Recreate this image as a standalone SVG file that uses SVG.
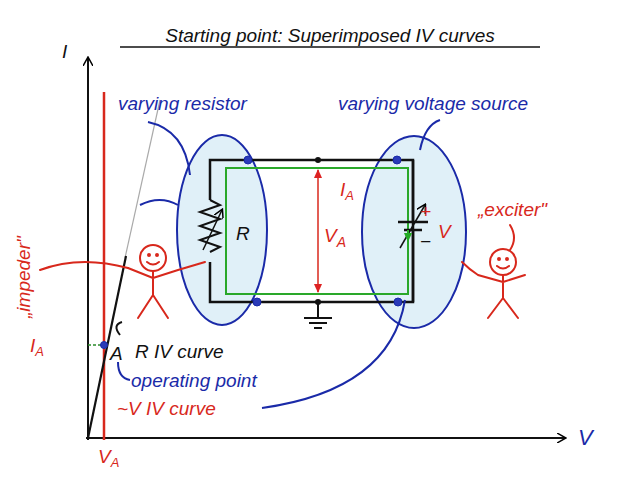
<svg xmlns="http://www.w3.org/2000/svg" width="631" height="480" viewBox="0 0 631 480">
<defs>
<marker id="ah" markerWidth="10" markerHeight="10" refX="8" refY="5" orient="auto" markerUnits="userSpaceOnUse"><path d="M0,0 L9,5 L0,10" fill="none" stroke="#000" stroke-width="1.5"/></marker>
<marker id="rh" markerWidth="10" markerHeight="10" refX="8" refY="5" orient="auto-start-reverse" markerUnits="userSpaceOnUse"><path d="M0,1 L9,5 L0,9 Z" fill="#d22"/></marker>
<marker id="gh" markerWidth="10" markerHeight="10" refX="5" refY="5" orient="auto" markerUnits="userSpaceOnUse"><path d="M0,1 L9,5 L0,9 Z" fill="#2a2"/></marker>
</defs>
<style>
text{font-family:"Liberation Sans",Arial,sans-serif;font-style:italic}
.b{fill:#1a2aa8;font-size:19px}
.r{fill:#d8281c;font-size:19px}
.k{fill:#111;font-size:19px}
.fig{fill:none;stroke:#d8281c;stroke-width:2;stroke-linecap:round}
.bl{fill:none;stroke:#1a2aa8;stroke-width:2}
.dot{fill:#2a3ab8;stroke:#1a2aa8}
</style>
<rect width="631" height="480" fill="#fff"/>
<g id="title"><text x="330" y="42" text-anchor="middle" class="k" font-size="18">Starting point: Superimposed IV curves</text>
<line x1="120" y1="47" x2="540" y2="47" stroke="#111" stroke-width="1.5"/></g>
<g id="axes" stroke="#111" stroke-width="2" fill="none">
<line x1="88" y1="440" x2="88" y2="58" marker-end="url(#ah)"/>
<line x1="86" y1="438" x2="565" y2="438" marker-end="url(#ah)"/>
</g>
<text x="62" y="58" class="k" font-size="22">I</text>
<text x="578" y="445" font-size="22" style="fill:#1a2aa8">V</text>
<line x1="104" y1="92" x2="104" y2="440" stroke="#d8281c" stroke-width="2.5"/>
<text x="98" y="463" class="r">V<tspan font-size="13" dy="4">A</tspan></text>
<line x1="125" y1="258" x2="160" y2="100" stroke="#aaa" stroke-width="1.2"/>
<line x1="88" y1="438" x2="126" y2="256" stroke="#111" stroke-width="2.2"/>
<line x1="88" y1="345" x2="104" y2="345" stroke="#2a8a2a" stroke-width="1.5" stroke-dasharray="3,2"/>
<text x="30" y="352" class="r">I<tspan font-size="13" dy="4">A</tspan></text>
<circle cx="104" cy="345" r="3.5" class="dot"/>
<text x="110" y="360" class="k" font-size="16">A</text>
<text x="135" y="358" class="k">R IV curve</text>
<path d="M120,335 Q112,325 122,322" fill="none" stroke="#111" stroke-width="2"/>
<text x="131" y="387" class="b">operating point</text>
<path d="M118,362 Q118,378 130,380" class="bl"/>
<text x="117" y="415" class="r">~V IV curve</text>
<text transform="translate(30,318) rotate(-90)" class="r">„impeder"</text>
<g id="leftEllipse"><ellipse cx="222" cy="230" rx="45" ry="95" fill="#e0f0f8" stroke="#1a2aa8" stroke-width="2"/></g>
<g id="rightEllipse"><ellipse cx="414" cy="232" rx="52" ry="96" fill="#e0f0f8" stroke="#1a2aa8" stroke-width="2"/></g>
<g id="circuit" fill="none" stroke-width="2.5">
<rect x="226" y="168" width="182" height="126" stroke="#2aa82a" stroke-width="2"/>
<path d="M210,200 V160 H413 V302 H210 V262" stroke="#111"/>
<path d="M210,200 l10,5 l-20,7 l20,7 l-20,7 l20,7 l-20,7 l20,7 l-10,5" stroke="#111" stroke-width="2"/>
<line x1="203" y1="250" x2="222" y2="210" stroke="#111" stroke-width="1.5" marker-end="url(#ah)"/>
<path d="M413,160 V222 M398,222 H428 M404,230 H422 M413,230 V302" stroke="#111"/>
<line x1="400" y1="248" x2="425" y2="205" stroke="#111" stroke-width="1.5" marker-end="url(#ah)"/>
<line x1="318" y1="170" x2="318" y2="292" stroke="#d8281c" stroke-width="1.5" marker-start="url(#rh)" marker-end="url(#rh)"/>
<path d="M318,302 V318 M304,318 H332 M309,323 H327 M314,328 H322" stroke="#111" stroke-width="2"/>
<path d="M280,168 h8 M360,294 h-8 M226,230 v-8 M408,230 v8" stroke="#2aa82a" stroke-width="2" marker-end="url(#gh)"/>
</g>
<g id="dots">
<circle cx="248" cy="160" r="4" class="dot"/><circle cx="318" cy="160" r="3" fill="#111"/><circle cx="397" cy="160" r="4" class="dot"/>
<circle cx="257" cy="302" r="4" class="dot"/><circle cx="318" cy="302" r="3" fill="#111"/><circle cx="398" cy="302" r="4" class="dot"/>
</g>
<text x="236" y="240" class="k" font-size="20" font-style="normal">R</text>
<text x="420" y="218" class="r" font-size="14">+</text>
<text x="420" y="248" class="k" font-size="14">−</text>
<text x="438" y="238" class="r" font-size="22">V</text>
<text x="324" y="242" class="r" font-size="22">V<tspan font-size="14" dy="5">A</tspan></text>
<text x="340" y="196" class="r">I<tspan font-size="13" dy="4">A</tspan></text>
<text x="118" y="110" class="b">varying resistor</text>
<text x="338" y="110" class="b">varying voltage source</text>
<path d="M148,122 Q185,130 190,175 M140,205 Q160,195 178,205" class="bl"/>
<path d="M440,120 Q425,125 420,150" class="bl"/>
<path d="M405,300 Q390,390 262,408" class="bl"/>
<g id="impeder" class="fig">
<circle cx="153" cy="258" r="13"/><circle cx="149" cy="255" r="1" fill="#d8281c"/><circle cx="157" cy="255" r="1" fill="#d8281c"/>
<path d="M147,262 Q153,267 159,262 M153,271 V295 M153,278 L128,268 M153,278 L178,270 Q195,265 205,262 M153,295 L138,318 M153,295 L168,318"/>
<path d="M128,268 Q80,255 40,270"/>
</g>
<g id="exciter" class="fig">
<circle cx="503" cy="262" r="13"/><circle cx="499" cy="259" r="1" fill="#d8281c"/><circle cx="507" cy="259" r="1" fill="#d8281c"/>
<path d="M497,266 Q503,271 509,266 M503,275 V298 M503,282 L478,275 Q470,270 462,262 M503,282 L525,275 M503,298 L488,318 M503,298 L518,318 M510,250 Q518,238 510,225"/>
</g>
<text x="478" y="216" class="r">„exciter"</text>
</svg>
